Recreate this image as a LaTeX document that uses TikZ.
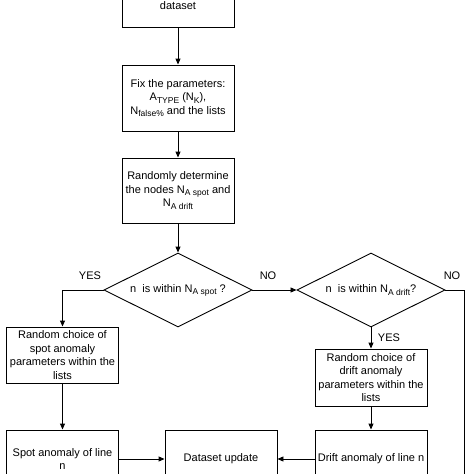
\documentclass[tikz,border=0pt]{standalone}
\usepackage{fontspec}
\setmainfont{Liberation Sans}
\usetikzlibrary{shapes.geometric,arrows.meta}
\newcommand{\subtxt}[1]{\raisebox{-2.2pt}{\fontsize{8.5}{10}\selectfont #1}}
\begin{document}
\begin{tikzpicture}[x=1pt, y=-1pt, line width=0.9pt,
	font=\fontsize{11}{13.5}\selectfont,
	box/.style={draw, rectangle, align=center, inner sep=1pt, minimum width=112pt},
	test/.style={draw, diamond, shape aspect=2, inner sep=0pt, minimum width=148pt, minimum height=74pt},
	flow/.style={-{Triangle[length=6pt,width=5pt]}}]
	\path[use as bounding box, clip] (0,0) rectangle (474,474);
	
	\node[box, minimum height=42pt] (load) at (178,6) {dataset};
	\node[box, minimum height=66pt] (params) at (178,98) {Fix the parameters:\\A\subtxt{TYPE} (N\subtxt{K}),\\N\subtxt{false\%} and the lists};
	\node[box, minimum height=65pt] (nodesel) at (178,190.5) {Randomly determine\\the nodes N\subtxt{A spot} and\\N\subtxt{A drift}};
	\node[test] (spotq) at (178,290) {n\ \ is within N\subtxt{A spot} ?};
	\node[test] (driftq) at (371,290) {n\ \ is within N\subtxt{A drift}?};
	\node[box, minimum height=56pt] (spotpar) at (62.5,355) {Random choice of\\spot anomaly\\parameters within the\\lists};
	\node[box, minimum height=57pt] (driftpar) at (371,377.5) {Random choice of\\drift anomaly\\parameters within the\\lists};
	\node[box, minimum height=58pt] (spotline) at (62.5,459) {Spot anomaly of line\\n};
	\node[box, minimum height=58pt] (update) at (221,459) {Dataset update};
	\node[box, minimum height=58pt] (driftline) at (371,459) {Drift anomaly of line n};
	\coordinate (exit) at (464,490);
	
	\node (yesspot) at (90,276) {YES};
	\node (nospot) at (268,276) {NO};
	\node (yesdrift) at (389,338) {YES};
	\node (nodrift) at (452,276) {NO};
	
	\draw[flow] (load) -- (params);
	\draw[flow] (params) -- (nodesel);
	\draw[flow] (nodesel) -- (spotq);
	\draw[flow] (spotq.west) -| (spotpar.north);
	\draw[flow] (spotq) -- (driftq);
	\draw[flow] (driftq) -- (driftpar);
	\draw (driftq.east) -| (exit);
	\draw[flow] (spotpar) -- (spotline);
	\draw[flow] (driftpar) -- (driftline);
	\draw[flow] (spotline) -- (update);
	\draw[flow] (driftline) -- (update);
\end{tikzpicture}
\end{document}
